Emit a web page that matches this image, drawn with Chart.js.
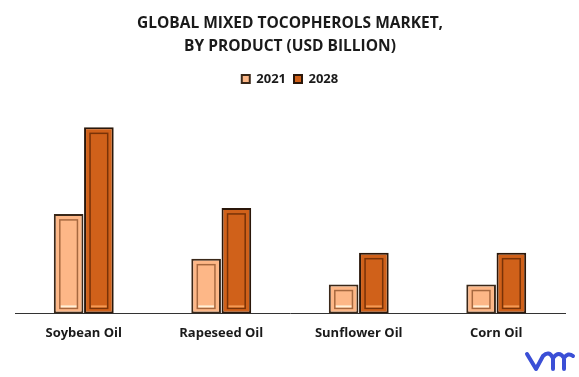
<!DOCTYPE html>
<html><head><meta charset="utf-8">
<script src="https://cdn.jsdelivr.net/npm/chart.js@4.4.1/dist/chart.umd.min.js"></script>
<style>html,body{margin:0;padding:0;background:#fff}#wrap{width:579px;height:377px;position:relative}</style>
</head><body><div id="wrap"><canvas id="c" width="579" height="377"></canvas></div>
<script>
const categories = ["Soybean Oil", "Rapeseed Oil", "Sunflower Oil", "Corn Oil"];
const seriesLabels = ["2021", "2028"];
const values2021 = [1.00, 0.55, 0.29, 0.29];
const values2028 = [1.87, 1.06, 0.61, 0.61];
const titleLines = ["GLOBAL MIXED TOCOPHEROLS MARKET,", "BY PRODUCT (USD BILLION)"];

const FONT = "'Open Sans', 'Liberation Sans', sans-serif";

const bevel = {
  id: 'bevel',
  afterDatasetsDraw(chart) {
    const ctx = chart.ctx;
    const styles = [
      {edge: 'rgba(150,90,50,0.85)', hi: '#fff0d8'},
      {edge: 'rgba(110,45,5,0.9)', hi: '#f59a55'}
    ];
    chart.data.datasets.forEach((ds, di) => {
      const meta = chart.getDatasetMeta(di);
      meta.data.forEach(bar => {
        const p = bar.getProps(['x','y','base','width'], true);
        const l = p.x - p.width/2, r = p.x + p.width/2;
        const ix = 6, it = 6, ib = 5;
        ctx.save();
        ctx.strokeStyle = styles[di].edge;
        ctx.lineWidth = 1.5;
        ctx.strokeRect(l + ix, p.y + it, (r - l) - 2*ix, (p.base - p.y) - it - ib);
        ctx.strokeStyle = styles[di].hi;
        ctx.lineWidth = 2;
        ctx.beginPath();
        ctx.moveTo(l + ix + 1, p.base - ib - 2);
        ctx.lineTo(r - ix - 1, p.base - ib - 2);
        ctx.stroke();
        ctx.restore();
      });
    });
  }
};

const logo = {
  id: 'logo',
  afterDraw(chart) {
    const ctx = chart.ctx;
    ctx.save();
    ctx.strokeStyle = '#3b4fd6';
    ctx.lineWidth = 4;
    ctx.lineCap = 'round';
    ctx.lineJoin = 'round';
    ctx.beginPath();
    ctx.moveTo(527, 354); ctx.lineTo(536, 369); ctx.lineTo(543, 356);
    ctx.quadraticCurveTo(549, 350, 553, 358); ctx.lineTo(553, 369);
    ctx.moveTo(553, 358); ctx.quadraticCurveTo(559, 350, 564, 358); ctx.lineTo(564, 369);
    ctx.moveTo(564, 358); ctx.quadraticCurveTo(568, 352, 573, 356);
    ctx.stroke();
    ctx.restore();
  }
};

new Chart(document.getElementById('c'), {
  type: 'bar',
  data: {
    labels: categories,
    datasets: [
      {label: seriesLabels[0], data: values2021, backgroundColor: '#FDB787', borderColor: '#3a2819', borderWidth: 2, borderSkipped: false, categoryPercentage: 0.44, barPercentage: 0.98},
      {label: seriesLabels[1], data: values2028, backgroundColor: '#D0611A', borderColor: '#2a170a', borderWidth: 2, borderSkipped: false, categoryPercentage: 0.44, barPercentage: 0.98}
    ]
  },
  options: {
    responsive: false,
    animation: false,
    devicePixelRatio: 1,
    layout: {padding: {left: 15, right: 14, top: 6, bottom: 24}},
    plugins: {
      title: {display: true, text: titleLines, color: '#1a1a1a', font: {family: FONT, size: 15.5, weight: 'bold', lineHeight: 1.5}, padding: {top: 6, bottom: 6}},
      legend: {display: true, position: 'top', labels: {boxWidth: 8, boxHeight: 8, color: '#1a1a1a', font: {family: FONT, size: 13, weight: 'bold'}, padding: 8}},
      tooltip: {enabled: false}
    },
    scales: {
      x: {
        grid: {display: false, drawTicks: false},
        border: {display: true, color: '#333', width: 1},
        ticks: {color: '#1a1a1a', font: {family: FONT, size: 13, weight: 'bold'}, padding: 12}
      },
      y: {display: false, min: 0, max: 2.19}
    }
  },
  plugins: [bevel, logo]
});
</script></body></html>
